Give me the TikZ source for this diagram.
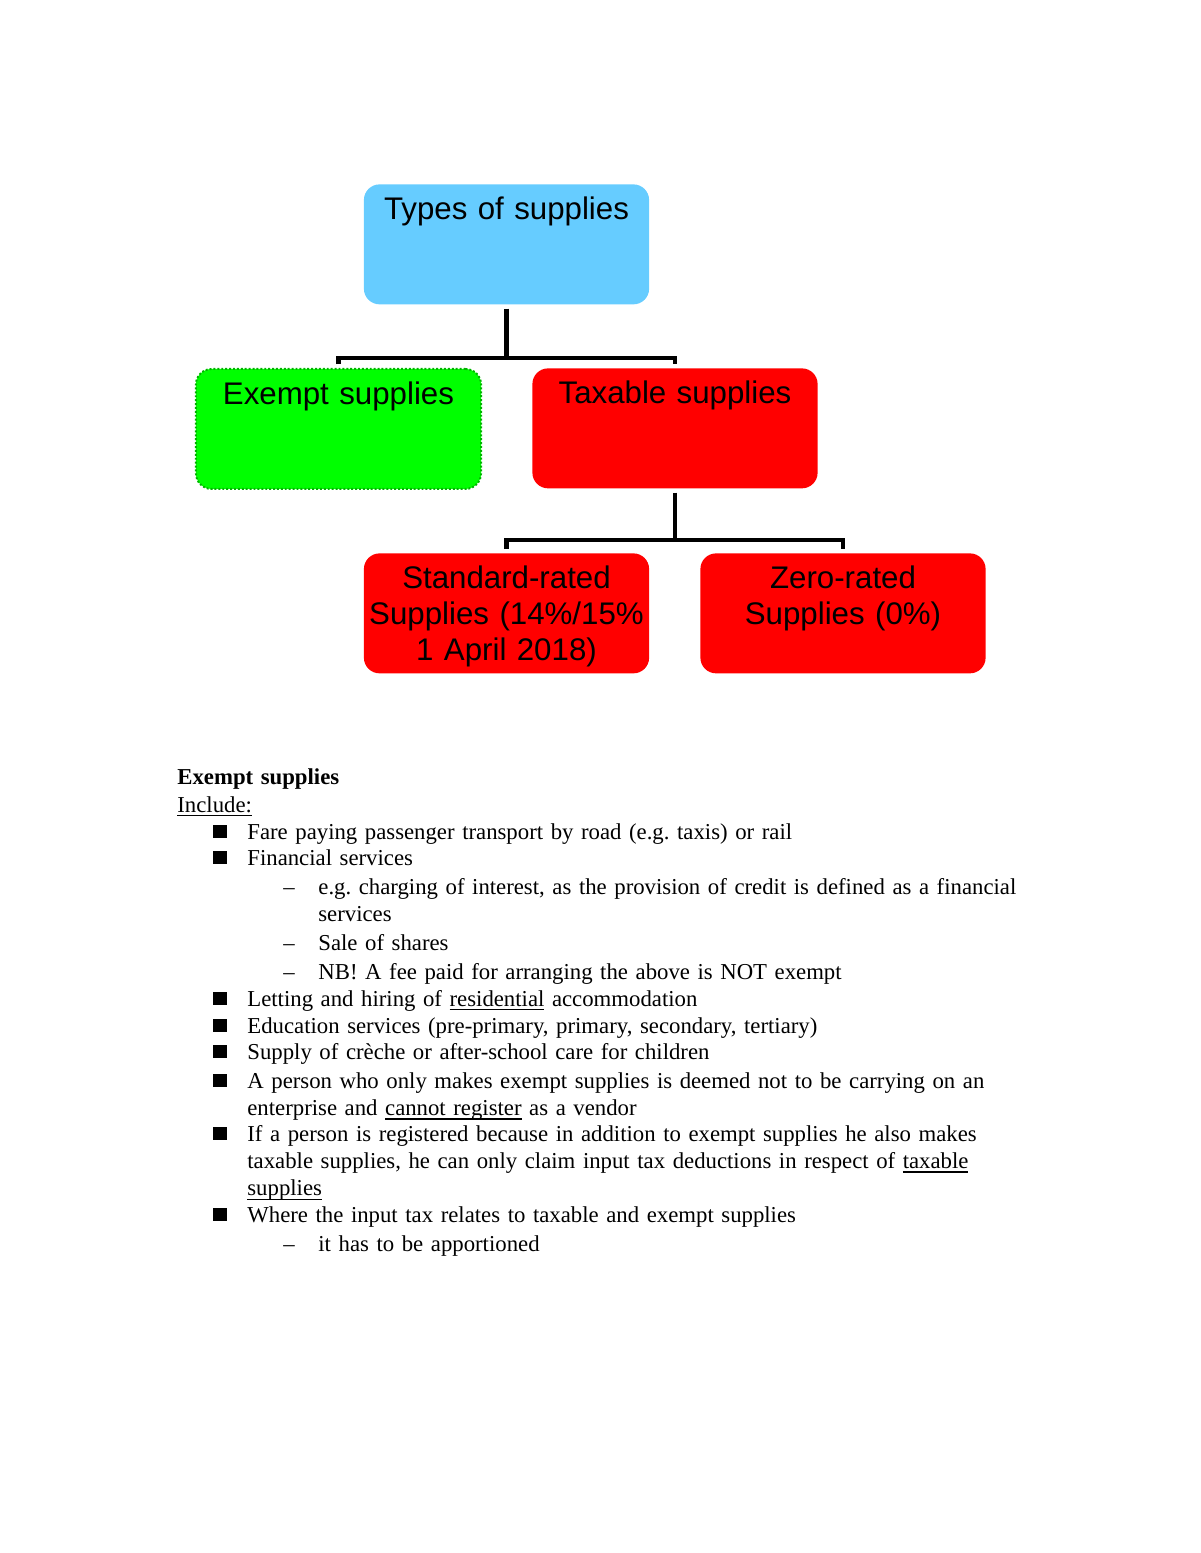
\documentclass[tikz,border=0pt]{standalone}
\usepackage{fontspec}
\setmainfont{Liberation Serif}
\newfontfamily\boxfont{Liberation Sans}
\usetikzlibrary{positioning}
\definecolor{myblue}{HTML}{66CCFF}
\definecolor{mygreen}{HTML}{00FF00}
\definecolor{mydarkgreen}{HTML}{00B400}
\definecolor{myred}{HTML}{FF0000}
\newcommand\myul[1]{\leavevmode\setbox0\hbox{#1}\rlap{\rule[-2.2pt]{\wd0}{0.6pt}}\box0\relax}
\tikzset{
  box/.style={rounded corners=8pt,inner xsep=2pt,inner ysep=0pt,text width=142pt,align=center,
    text height=18.2pt,text depth=43.2pt,anchor=north,font=\boxfont\fontsize{16}{18.4}\selectfont},
  box types/.style={box,fill=myblue},
  box exempt/.style={box,fill=mygreen,draw=mydarkgreen,densely dotted,line width=1pt},
  box tax/.style={box,fill=myred},
  connect/.style={line width=2.1pt,black,shorten <=2pt,shorten >=2pt},
  item/.style={anchor=base west,inner sep=0pt,text width=420pt,align=left,font=\fontsize{11.65}{14}\selectfont},
  sq/.style={fill=black,inner sep=0pt,minimum size=6.8pt}
}
\begin{document}
\begin{tikzpicture}[x=0.5119pt,y=-0.5119pt]
\useasboundingbox (0,0) rectangle (1200,1553);
%
% the tree
\node[box types] (types) at (506.5,184) {Types of supplies};
\node[box exempt] (exempt) at (338.5,368) {Exempt supplies};
\node[box tax] (taxable) at (675,368) {Taxable supplies};
\node[box tax] (standard) at (506.5,553) {Standard-rated\\ Supplies (14\%/15\%\\ 1 April 2018)};
\node[box tax] (zero) at (843,553) {Zero-rated\\ Supplies (0\%)};
\path (types.south) ++(0,53) coordinate (j1);
\path (taxable.south) ++(0,51) coordinate (j2);
\draw[connect,shorten >=0pt] (types.south) -- (j1);
\draw[connect] (exempt.north) |- (j1) -| (taxable.north);
\draw[connect,shorten >=0pt] (taxable.south) -- (j2);
\draw[connect] (standard.north) |- (j2) -| (zero.north);
%
% the list
\node[item] (head) at (177,784) {\textbf{Exempt supplies}};
\node[item] (incl) at (177,812) {\myul{Include:}};
\node[item] (i1) at (247,839) {Fare paying passenger transport by road (e.g.\ taxis) or rail};
\node[item] (i2) at (247,865) {Financial services};
\node[item] (s1) at (318,894) {e.g.\ charging of interest, as the provision of credit is defined as a financial\\ services};
\node[item] (s2) at (318,950) {Sale of shares};
\node[item] (s3) at (318,979) {NB! A fee paid for arranging the above is NOT exempt};
\node[item] (i3) at (247,1006) {Letting and hiring of \myul{residential} accommodation};
\node[item] (i4) at (247,1033) {Education services (pre-primary, primary, secondary, tertiary)};
\node[item] (i5) at (247,1059) {Supply of crèche or after-school care for children};
\node[item] (i6) at (247,1088) {A person who only makes exempt supplies is deemed not to be carrying on an\\ enterprise and \myul{cannot register} as a vendor};
\node[item] (i7) at (247,1141) {If a person is registered because in addition to exempt supplies he also makes\\ taxable supplies, he can only claim input tax deductions in respect of \myul{taxable}\\ \myul{supplies}};
\node[item] (i8) at (247,1222) {Where the input tax relates to taxable and exempt supplies};
\node[item] (s4) at (318,1251) {it has to be apportioned};
\foreach \X in {i1,i2,i3,i4,i5,i6,i7,i8}
{\node[sq] (b-\X) at ([xshift=-13.8pt,yshift=3.7pt]\X.base west) {};}
\foreach \X in {s1,s2,s3,s4}
{\node[item,text width=] (d-\X) at ([xshift=-17.9pt]\X.base west) {--};}
\end{tikzpicture}
\end{document}
